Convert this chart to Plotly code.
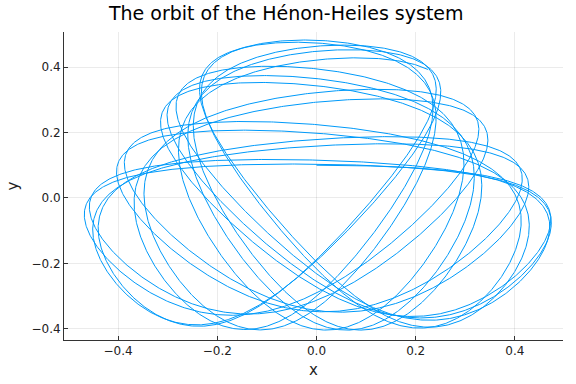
import numpy as np
import plotly.graph_objects as go

# Hénon-Heiles system: initial state as in the reference (position, velocity) and time span
initial_positions = [0.0, 0.1]
initial_velocities = [0.5, 0.0]
tspan = [0.0, 100.0]
x_ticks = [-0.4, -0.2, 0.0, 0.2, 0.4]
y_ticks = [-0.4, -0.2, 0.0, 0.2, 0.4]
tick_text = ["\u22120.4", "\u22120.2", "0.0", "0.2", "0.4"]

def accel(x, y):
    return -x - 2 * x * y, y * y - x * x - y

def rhs(s):
    x, y, vx, vy = s
    ax, ay = accel(x, y)
    return np.array([vx, vy, ax, ay])

dt = 0.002
n = int(round((tspan[1] - tspan[0]) / dt))
s = np.array(initial_positions + initial_velocities, dtype=float)
xs = [s[0]]
ys = [s[1]]
for i in range(n):
    k1 = rhs(s)
    k2 = rhs(s + 0.5 * dt * k1)
    k3 = rhs(s + 0.5 * dt * k2)
    k4 = rhs(s + dt * k3)
    s = s + dt / 6 * (k1 + 2 * k2 + 2 * k3 + k4)
    if (i + 1) % 5 == 0:
        xs.append(s[0])
        ys.append(s[1])

fig = go.Figure()
fig.add_trace(go.Scatter(x=xs, y=ys, mode="lines",
                         line=dict(color="#009AFA", width=1), showlegend=False))

axis_common = dict(
    showgrid=True, gridcolor="rgba(0,0,0,0.08)", gridwidth=1,
    zeroline=False, showline=True, linecolor="#333333", linewidth=1,
    ticks="inside", ticklen=4, tickcolor="#333333",
    tickfont=dict(family="DejaVu Sans", size=12, color="#222222"),
    mirror=False, automargin=False,
)
fig.update_xaxes(range=[-0.509, 0.497], tickvals=x_ticks, ticktext=tick_text,
                 title=dict(text="x", font=dict(family="DejaVu Sans", size=15, color="#222222"), standoff=7),
                 **axis_common)
fig.update_yaxes(range=[-0.434, 0.507], tickvals=y_ticks, ticktext=tick_text,
                 title=dict(text="y", font=dict(family="DejaVu Sans", size=15, color="#222222"), standoff=9),
                 **axis_common)
fig.update_layout(
    width=576, height=384,
    margin=dict(l=64, r=13, t=32, b=44),
    plot_bgcolor="white", paper_bgcolor="white",
    title=dict(text="The orbit of the Hénon-Heiles system", x=0.497, xanchor="center",
               y=0.983, yanchor="top",
               font=dict(family="DejaVu Sans", size=19, color="black")),
)
fig.write_html("out.html", config={"displayModeBar": False},
               post_script="document.body.style.margin='0px';document.body.style.padding='0px';")
